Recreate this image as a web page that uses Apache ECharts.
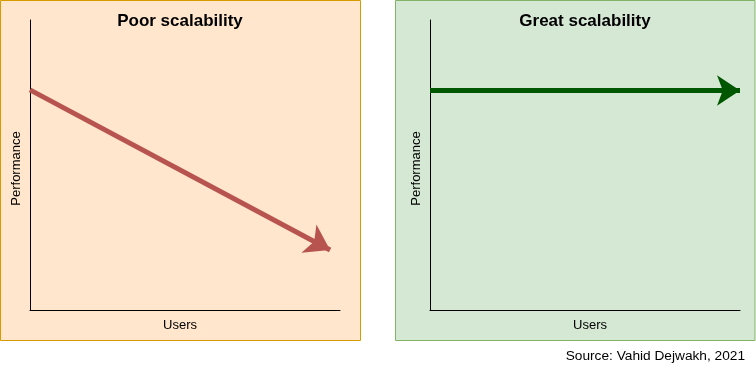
<!DOCTYPE html>
<html>
<head>
<meta charset="utf-8">
<script src="https://cdn.jsdelivr.net/npm/echarts@6/dist/echarts.min.js"></script>
<style>
html,body{margin:0;padding:0;background:#fff;}
#c{width:756px;height:369px;}
</style>
</head>
<body>
<div id="c"></div>
<script>
// Data
var panelTitles = ['Poor scalability', 'Great scalability'];
var xAxisNames = ['Users', 'Users'];
var yAxisNames = ['Performance', 'Performance'];
var poorLine = [[0, 7.59], [9.68, 2.07]];
var greatLine = [[0, 7.57], [10, 7.57]];
var sourceText = 'Source: Vahid Dejwakh, 2021';

var FONT = 'Helvetica, Arial, "Liberation Sans", sans-serif';
var chart = echarts.init(document.getElementById('c'), null, {renderer: 'canvas'});

function axisX(idx, name, pad) {
  return {
    gridIndex: idx, type: 'value', min: 0, max: 10,
    name: name, nameLocation: 'middle', nameGap: 9,
    nameTextStyle: {color: '#000', fontSize: 13, fontFamily: FONT, padding: pad},
    axisLine: {show: true, onZero: false, lineStyle: {color: '#000', width: 1}},
    axisTick: {show: false}, axisLabel: {show: false}, splitLine: {show: false}
  };
}
function axisY(idx, name) {
  return {
    gridIndex: idx, type: 'value', min: 0, max: 10,
    name: name, nameLocation: 'middle', nameGap: 7,
    nameTextStyle: {color: '#000', fontSize: 13, fontFamily: FONT, padding: [0, 7, 0, 0]},
    axisLine: {show: true, onZero: false, lineStyle: {color: '#000', width: 1}},
    axisTick: {show: false}, axisLabel: {show: false}, splitLine: {show: false}
  };
}

chart.setOption({
  animation: false,
  backgroundColor: '#fff',
  graphic: [
    {type: 'rect', z: -10, shape: {x: 0.5, y: 0.5, width: 360, height: 340},
     style: {fill: '#FFE6CC', stroke: '#D79B00', lineWidth: 1}},
    {type: 'rect', z: -10, shape: {x: 395.5, y: 0.5, width: 359.5, height: 340},
     style: {fill: '#D5E8D4', stroke: '#82B366', lineWidth: 1}},
    {type: 'text', x: 180, y: 21,
     style: {text: panelTitles[0], fill: '#000', font: 'bold 17px ' + FONT, align: 'center', verticalAlign: 'middle'}},
    {type: 'text', x: 585, y: 21,
     style: {text: panelTitles[1], fill: '#000', font: 'bold 17px ' + FONT, align: 'center', verticalAlign: 'middle'}},
    {type: 'text', x: 745, y: 356,
     style: {text: sourceText, fill: '#000', font: '13.7px ' + FONT, align: 'right', verticalAlign: 'middle'}}
  ],
  grid: [
    {left: 30, top: 20, width: 310, height: 290},
    {left: 430, top: 20, width: 310, height: 290}
  ],
  xAxis: [axisX(0, xAxisNames[0], [0, 10, 0, 0]), axisX(1, xAxisNames[1], [0, 0, 0, 10])],
  yAxis: [axisY(0, yAxisNames[0]), axisY(1, yAxisNames[1])],
  series: [
    {type: 'lines', coordinateSystem: 'cartesian2d', xAxisIndex: 0, yAxisIndex: 0,
     symbol: ['none', 'arrow'], symbolSize: 24,
     lineStyle: {color: '#B85450', width: 5, opacity: 1},
     data: [{coords: poorLine}]},
    {type: 'lines', coordinateSystem: 'cartesian2d', xAxisIndex: 1, yAxisIndex: 1,
     symbol: ['none', 'arrow'], symbolSize: 23,
     lineStyle: {color: '#005700', width: 5, opacity: 1},
     data: [{coords: greatLine}]}
  ]
});
</script>
</body>
</html>
